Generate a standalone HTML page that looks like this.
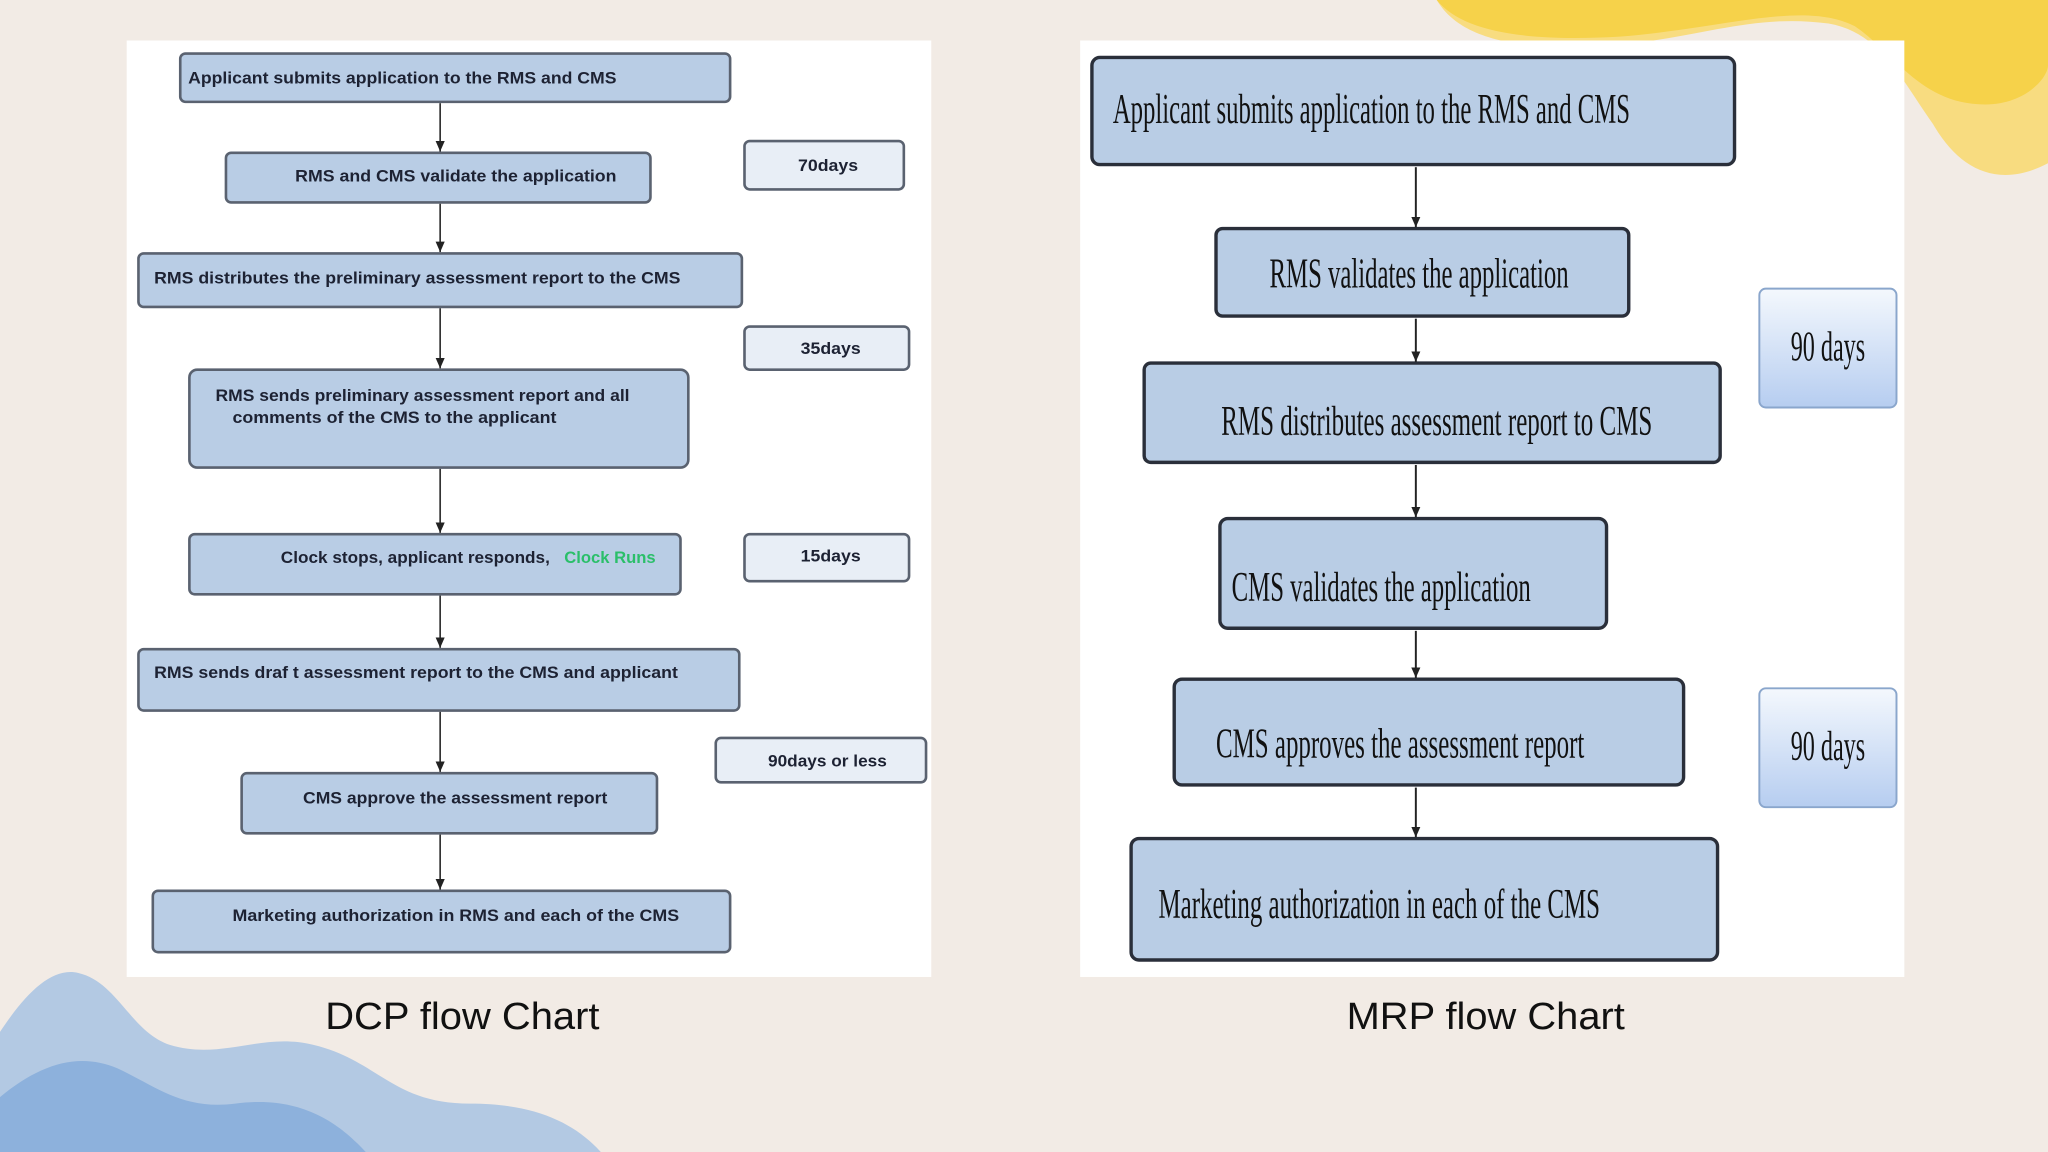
<!DOCTYPE html>
<html><head><meta charset="utf-8"><style>html,body{margin:0;padding:0;background:#f2ebe5}svg{display:block}</style></head>
<body>
<svg width="2048" height="1152" viewBox="0 0 1568 882" xmlns="http://www.w3.org/2000/svg" font-family="Liberation Sans, sans-serif">
<defs>
<linearGradient id="g90" x1="0" y1="0" x2="0" y2="1"><stop offset="0" stop-color="#f4f8fd"/><stop offset="1" stop-color="#b6cdf0"/></linearGradient>
<marker id="ar" markerWidth="9" markerHeight="9" refX="8" refY="4" orient="auto" markerUnits="userSpaceOnUse"><path d="M0,0.5 L8,4 L0,7.5 z" fill="#222"/></marker>
</defs>
<rect width="1568" height="882" fill="#f2ebe5"/>
<path d="M1100,0 C1115,25 1150,40 1230,35 C1300,30 1340,10 1400,18 C1440,25 1455,60 1480,95 C1500,130 1530,145 1568,125 L1568,0 Z" fill="#f8dc80"/>
<path d="M1100,0 C1120,25 1170,32 1240,28 C1320,22 1380,0 1420,20 C1450,40 1470,80 1520,80 C1550,80 1568,60 1568,50 L1568,0 Z" fill="#f6d24a"/>
<path d="M0,790 C20,760 40,740 60,745 C90,752 100,790 130,800 C170,812 200,790 240,800 C290,812 300,845 360,845 C410,845 440,860 460,882 L0,882 Z" fill="#b3c9e3"/>
<path d="M0,840 C30,815 60,805 90,818 C120,832 140,850 180,845 C230,838 260,860 280,882 L0,882 Z" fill="#8db1dc"/>
<rect x="97" y="31" width="616" height="717" fill="#fff"/>
<rect x="827" y="31" width="631" height="717" fill="#fff"/>
<g fill="#b9cde5" stroke="#5a6270" stroke-width="2">
<rect x="138" y="41" width="421" height="37" rx="4"/>
<rect x="173" y="117" width="325" height="38" rx="4"/>
<rect x="106" y="194" width="462" height="41" rx="4"/>
<rect x="145" y="283" width="382" height="75" rx="6"/>
<rect x="145" y="409" width="376" height="46" rx="4"/>
<rect x="106" y="497" width="460" height="47" rx="4"/>
<rect x="185" y="592" width="318" height="46" rx="4"/>
<rect x="117" y="682" width="442" height="47" rx="4"/>
</g>
<g stroke="#333" stroke-width="1.3" marker-end="url(#ar)">
<line x1="337" y1="79" x2="337" y2="116"/>
<line x1="337" y1="156" x2="337" y2="193"/>
<line x1="337" y1="236" x2="337" y2="282"/>
<line x1="337" y1="359" x2="337" y2="408"/>
<line x1="337" y1="456" x2="337" y2="496"/>
<line x1="337" y1="545" x2="337" y2="591"/>
<line x1="337" y1="639" x2="337" y2="681"/>
</g>
<g fill="#e8eef6" stroke="#5a6270" stroke-width="2">
<rect x="570" y="108" width="122" height="37" rx="4"/>
<rect x="570" y="250" width="126" height="33" rx="4"/>
<rect x="570" y="409" width="126" height="36" rx="4"/>
<rect x="548" y="565" width="161" height="34" rx="4"/>
</g>
<g font-size="13" font-weight="bold" fill="#1d2233">
<text x="144" y="64" textLength="328" lengthAdjust="spacingAndGlyphs">Applicant submits application to the RMS and CMS</text>
<text x="226" y="139" textLength="246" lengthAdjust="spacingAndGlyphs">RMS and CMS validate the application</text>
<text x="118" y="217" textLength="403" lengthAdjust="spacingAndGlyphs">RMS distributes the preliminary assessment report to the CMS</text>
<text x="165" y="307" textLength="317" lengthAdjust="spacingAndGlyphs">RMS sends preliminary assessment report and all</text>
<text x="178" y="324" textLength="248" lengthAdjust="spacingAndGlyphs">comments of the CMS to the applicant</text>
<text x="215" y="431" textLength="206" lengthAdjust="spacingAndGlyphs">Clock stops, applicant responds,</text>
<text x="432" y="431" textLength="70" lengthAdjust="spacingAndGlyphs" fill="#2bbf6a">Clock Runs</text>
<text x="118" y="519" textLength="401" lengthAdjust="spacingAndGlyphs">RMS sends draf  t assessment report to the CMS and applicant</text>
<text x="232" y="615" textLength="233" lengthAdjust="spacingAndGlyphs">CMS approve the assessment report</text>
<text x="178" y="705" textLength="342" lengthAdjust="spacingAndGlyphs">Marketing authorization in RMS and each of the CMS</text>
<text x="611" y="131" textLength="46" lengthAdjust="spacingAndGlyphs">70days</text>
<text x="613" y="271" textLength="46" lengthAdjust="spacingAndGlyphs">35days</text>
<text x="613" y="430" textLength="46" lengthAdjust="spacingAndGlyphs">15days</text>
<text x="588" y="587" textLength="91" lengthAdjust="spacingAndGlyphs">90days or less</text>
</g>
<g fill="#b9cde5" stroke="#2a2f3a" stroke-width="2.6">
<rect x="836" y="44" width="492" height="82" rx="6"/>
<rect x="931" y="175" width="316" height="67" rx="5"/>
<rect x="876" y="278" width="441" height="76" rx="5"/>
<rect x="934" y="397" width="296" height="84" rx="6"/>
<rect x="899" y="520" width="390" height="81" rx="6"/>
<rect x="866" y="642" width="449" height="93" rx="6"/>
</g>
<g stroke="#222" stroke-width="1.5" marker-end="url(#ar)">
<line x1="1084" y1="128" x2="1084" y2="174"/>
<line x1="1084" y1="244" x2="1084" y2="277"/>
<line x1="1084" y1="356" x2="1084" y2="396"/>
<line x1="1084" y1="483" x2="1084" y2="519"/>
<line x1="1084" y1="603" x2="1084" y2="641"/>
</g>
<g stroke="#8aa6cc" stroke-width="1.5" fill="url(#g90)">
<rect x="1347" y="221" width="105" height="91" rx="5"/>
<rect x="1347" y="527" width="105" height="91" rx="5"/>
</g>
<g font-family="Liberation Serif, serif" font-size="32" fill="#111">
<text x="852" y="94" textLength="396" lengthAdjust="spacingAndGlyphs">Applicant submits application to the RMS and CMS</text>
<text x="972" y="220" textLength="229" lengthAdjust="spacingAndGlyphs">RMS validates the application</text>
<text x="935" y="333" textLength="330" lengthAdjust="spacingAndGlyphs">RMS distributes assessment report to CMS</text>
<text x="943" y="460" textLength="229" lengthAdjust="spacingAndGlyphs">CMS validates the application</text>
<text x="931" y="580" textLength="282" lengthAdjust="spacingAndGlyphs">CMS approves the assessment report</text>
<text x="887" y="703" textLength="338" lengthAdjust="spacingAndGlyphs">Marketing authorization in each of the CMS</text>
<text x="1371" y="276" textLength="57" lengthAdjust="spacingAndGlyphs">90 days</text>
<text x="1371" y="582" textLength="57" lengthAdjust="spacingAndGlyphs">90 days</text>
</g>
<g font-size="29" fill="#111">
<text x="249" y="788" textLength="210" lengthAdjust="spacingAndGlyphs">DCP flow Chart</text>
<text x="1031" y="788" textLength="213" lengthAdjust="spacingAndGlyphs">MRP flow Chart</text>
</g>
</svg>
</body></html>
